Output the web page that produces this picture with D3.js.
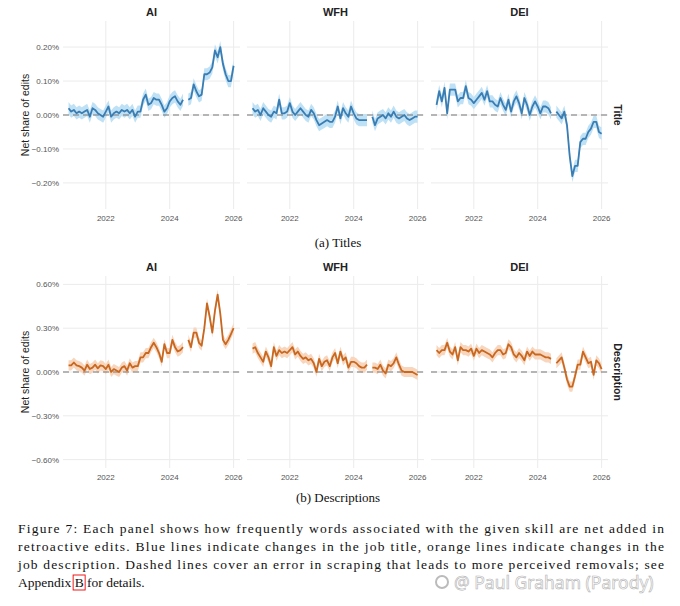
<!DOCTYPE html>
<html><head><meta charset="utf-8">
<script src="https://cdn.jsdelivr.net/npm/d3@7"></script>
<style>body{margin:0;background:#fff}svg{display:block}</style>
</head><body><svg id="fig" width="680" height="606"></svg>
<script>
// monthly, Nov 2020 .. Jan 2026 (63 points), values in percent
const skills = ["AI", "WFH", "DEI"];
const yearTicks = [2022, 2024, 2026];
const titleTicks = [0.2, 0.1, 0, -0.1, -0.2];
const descTicks = [0.6, 0.3, 0, -0.3, -0.6];

const titleAI = [0.02,0.01,0.015,0.005,0.01,0.005,0.01,0.015,-0.005,0.02,0.015,0.005,0,-0.005,0.01,0.025,-0.005,0.005,0.01,0.005,0.015,0.01,0.015,0.005,0.015,-0.005,
  0.01,0.01,0.045,0.06,0.03,0.035,0.05,0.045,0.045,0.03,0.01,0.02,0.04,0.05,0.055,0.04,0.03,0.045,null,
  0.045,0.05,0.09,0.07,0.055,0.06,0.12,0.12,0.125,0.14,0.19,0.17,0.2,0.15,0.12,0.1,0.1,0.145];
const titleWFH = [0.02,0.01,0.015,0.0,0.02,0.01,0,-0.005,0.01,0.005,0.045,0.005,0.005,0.01,0.035,0.01,0,0.01,0.02,0.01,0,-0.005,0.015,0.005,-0.015,-0.03,
  -0.025,-0.02,-0.015,-0.02,-0.02,-0.005,0.025,-0.01,0.02,0.005,-0.005,0.025,0.005,-0.01,-0.015,-0.015,-0.015,-0.015,null,
  -0.005,-0.03,-0.01,-0.005,0.0,-0.01,0.005,-0.005,0.01,-0.005,-0.01,-0.005,0.0,-0.01,-0.015,-0.01,-0.005,-0.005];
const titleDEI = [0.03,0.07,0.04,0.08,0.005,0.075,0.075,0.075,0.04,0.05,0.05,0.085,0.05,0.045,0.035,0.045,0.055,0.065,0.045,0.07,0.04,0.04,0.03,0.025,0.05,0.03,
  0.015,0.045,0.01,0.04,0.055,0.035,0.005,0.05,0.03,0.0,0.025,0.04,0.025,0.005,0.025,0.025,0.02,0.005,null,
  0.01,0.0,-0.01,0.01,-0.03,-0.12,-0.18,-0.15,-0.15,-0.08,-0.07,-0.07,-0.05,-0.04,-0.02,-0.02,-0.05,-0.055];
const descAI = [0.045,0.045,0.065,0.045,0.04,0.03,0.01,0.05,0.02,0.03,0.05,0.025,0.045,0.04,0.02,0.05,0.0,0.02,0.01,0.0,0.03,0.04,0.01,0.06,0.03,0.04,
  0.04,0.1,0.1,0.13,0.13,0.17,0.2,0.17,0.13,0.07,0.19,0.13,0.13,0.22,0.17,0.14,0.15,0.17,null,
  0.22,0.17,0.27,0.27,0.2,0.18,0.3,0.47,0.38,0.27,0.42,0.53,0.4,0.22,0.19,0.22,0.26,0.3];
const descWFH = [0.16,0.17,0.13,0.1,0.07,0.14,0.1,0.04,0.17,0.11,0.15,0.13,0.14,0.13,0.15,0.17,0.12,0.14,0.11,0.09,0.1,0.08,0.09,0.06,0.0,0.09,
  0.04,0.07,0.08,0.04,0.1,0.13,0.06,0.14,0.08,0.1,0.03,0.07,0.07,0.06,0.04,0.03,0.03,0.05,null,
  0.03,0.03,0.02,0.05,0.01,-0.01,0.05,0.04,0.06,0.1,0.05,0.01,0.0,0.0,0.0,0.0,-0.01,-0.02];
const descDEI = [0.15,0.13,0.15,0.15,0.2,0.14,0.12,0.17,0.08,0.17,0.15,0.15,0.14,0.16,0.11,0.16,0.13,0.15,0.14,0.13,0.12,0.1,0.13,0.15,0.15,0.12,
  0.13,0.19,0.17,0.12,0.1,0.13,0.11,0.08,0.14,0.11,0.14,0.12,0.12,0.12,0.11,0.1,0.1,0.09,null,
  0.06,0.08,0.1,0.03,-0.05,-0.1,-0.1,-0.03,0.05,0.05,0.14,0.1,0.06,0.07,-0.02,0.08,0.06,0.02];
const titleCI = 0.018, descCI = 0.035;

const rows = [
  {series: [titleAI, titleWFH, titleDEI], ticks: titleTicks, dom: [-0.265, 0.265], top: 25, bottom: 205, ci: titleCI,
   line: "#3a7db3", band: "#bfe1f5", strip: "Title", caption: "(a) Titles", capY: 247, fmt: d3.format(".2f")},
  {series: [descAI, descWFH, descDEI], ticks: descTicks, dom: [-0.63, 0.63], top: 280, bottom: 464, ci: descCI,
   line: "#c8671f", band: "#f8d6bd", strip: "Description", caption: "(b) Descriptions", capY: 502, fmt: d3.format(".2f")}
];

const svg = d3.select("#fig");
const panelX = [63, 247, 431], panelW = 177;
const t = i => 2020 + 10 / 12 + i / 12;

rows.forEach(r => {
  const y = d3.scaleLinear().domain(r.dom).range([r.bottom, r.top]);
  r.series.forEach((vals, k) => {
    const x = d3.scaleLinear().domain([2020.66, 2026.2]).range([panelX[k], panelX[k] + panelW]);
    const g = svg.append("g");
    const pts = vals.map((v, i) => ({x: t(i), v}));
    // grid
    g.selectAll(".gy").data(r.ticks).join("line")
      .attr("x1", x.range()[0]).attr("x2", x.range()[1])
      .attr("y1", d => y(d)).attr("y2", d => y(d)).attr("stroke", "#ebebeb");
    g.selectAll(".gx").data(yearTicks).join("line")
      .attr("x1", d => x(d)).attr("x2", d => x(d))
      .attr("y1", r.top - 4).attr("y2", r.bottom + 4).attr("stroke", "#ebebeb");
    g.selectAll(".xl").data(yearTicks).join("text")
      .attr("x", d => x(d)).attr("y", r.bottom + 16).attr("text-anchor", "middle")
      .attr("font-family", "Liberation Sans").attr("font-size", 8).attr("fill", "#555").text(d => d);
    if (k === 0) {
      g.selectAll(".yl").data(r.ticks).join("text")
        .attr("x", x.range()[0] - 4).attr("y", d => y(d) + 3).attr("text-anchor", "end")
        .attr("font-family", "Liberation Sans").attr("font-size", 8).attr("fill", "#555")
        .text(d => r.fmt(d) + "%");
      g.append("text").attr("transform", `translate(29,${(r.top + r.bottom) / 2}) rotate(-90)`)
        .attr("text-anchor", "middle").attr("font-family", "Liberation Sans").attr("font-size", 10.5)
        .attr("fill", "#222").text("Net share of edits");
    }
    g.append("text").attr("x", (x.range()[0] + x.range()[1]) / 2).attr("y", r.top - 9)
      .attr("text-anchor", "middle").attr("font-family", "Liberation Sans").attr("font-weight", "bold")
      .attr("font-size", 11).attr("fill", "#222").text(skills[k]);
    g.append("path").datum(pts)
      .attr("d", d3.area().defined(d => d.v != null).x(d => x(d.x))
        .y0(d => y(d.v - r.ci)).y1(d => y(d.v + r.ci)))
      .attr("fill", r.band);
    g.append("line").attr("x1", x.range()[0]).attr("x2", x.range()[1])
      .attr("y1", y(0)).attr("y2", y(0)).attr("stroke", "#777").attr("stroke-width", 1.2)
      .attr("stroke-dasharray", "6,4");
    g.append("path").datum(pts)
      .attr("d", d3.line().defined(d => d.v != null).x(d => x(d.x)).y(d => y(d.v)))
      .attr("fill", "none").attr("stroke", r.line).attr("stroke-width", 1.8).attr("stroke-linejoin", "round");
  });
  svg.append("text").attr("transform", `translate(614,${y(0)}) rotate(90)`)
    .attr("text-anchor", "middle").attr("font-family", "Liberation Sans").attr("font-weight", "bold")
    .attr("font-size", 10.5).attr("fill", "#222").text(r.strip);
  svg.append("text").attr("x", 338).attr("y", r.capY).attr("text-anchor", "middle")
    .attr("font-family", "Liberation Serif").attr("font-size", 13).attr("fill", "#111").text(r.caption);
});

// figure caption
const capLines = [
  "Figure 7: Each panel shows how frequently words associated with the given skill are net added in",
  "retroactive edits. Blue lines indicate changes in the job title, orange lines indicate changes in the",
  "job description. Dashed lines cover an error in scraping that leads to more perceived removals; see"
];
capLines.forEach((s, i) => {
  svg.append("text").attr("x", 18).attr("y", 533 + i * 18).attr("textLength", 646)
    .attr("lengthAdjust", "spacing").attr("font-family", "Liberation Serif").attr("font-size", 13.5)
    .attr("fill", "#111").text(s);
});
const last = svg.append("text").attr("x", 18).attr("y", 587).attr("font-family", "Liberation Serif")
  .attr("font-size", 13.5).attr("fill", "#111").attr("xml:space", "preserve");
last.append("tspan").text("Appendix\u00a0");
const bt = last.append("tspan").text("B");
last.append("tspan").text("\u00a0for details.");
const bb = bt.node().getBBox();
svg.append("rect").attr("x", bb.x - 1.5).attr("y", bb.y).attr("width", bb.width + 3).attr("height", bb.height)
  .attr("fill", "none").attr("stroke", "#e00").attr("stroke-width", 0.9);

// watermark
svg.append("circle").attr("cx", 442).attr("cy", 582).attr("r", 6).attr("fill", "none")
  .attr("stroke", "#bbb").attr("stroke-width", 2);
svg.append("text").attr("x", 454).attr("y", 589).attr("font-family", "Noto Sans").attr("font-size", 17.5)
  .attr("fill", "#fff").attr("stroke", "#aaa").attr("stroke-width", 0.6).attr("opacity", 0.9)
  .text("@ Paul Graham (Parody)");
</script></body></html>
